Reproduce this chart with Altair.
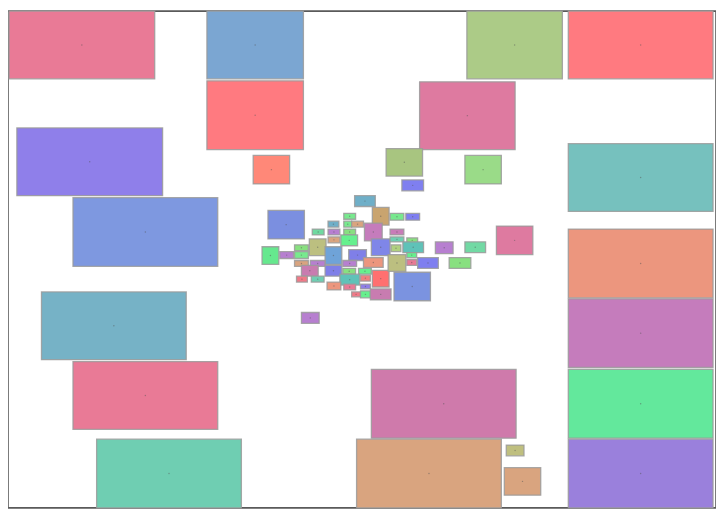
import altair as alt
import pandas as pd

# Rectangle extents (pixel-like data units)
x_start = [4, 205, 205, 12, 252, 69, 267, 469, 572, 421, 387, 403, 467, 572, 572, 499, 467, 437,
           37, 69, 93, 301, 572, 572, 572, 372, 357, 509, 507, 395, 451, 419,
           355, 373, 328, 344, 344, 352, 312, 328, 328, 344, 341, 365, 309, 261, 279, 294, 294, 294,
           325, 349, 310, 325, 301, 296, 311, 343, 372, 364, 343, 359, 340, 361, 373, 327, 344, 361,
           352, 361, 371, 391, 407, 391, 391, 408, 404, 392, 389, 408, 408]
x_end = [152, 303, 303, 160, 289, 216, 304, 566, 719, 518, 424, 425, 504, 719, 719, 536, 488, 455,
         184, 216, 240, 319, 719, 719, 719, 519, 504, 527, 544, 432, 473, 440,
         376, 390, 339, 356, 352, 364, 324, 340, 340, 356, 358, 383, 326, 278, 293, 308, 308, 308,
         342, 367, 325, 342, 318, 307, 324, 357, 391, 384, 356, 372, 360, 371, 390, 341, 356, 371,
         361, 371, 392, 405, 421, 405, 405, 419, 425, 402, 407, 418, 418]
y_start = [3, 3, 74, 122, 150, 193, 206, 3, 3, 75, 143, 175, 150, 138, 225, 222, 238, 238,
           289, 360, 439, 310, 296, 368, 439, 368, 439, 445, 468, 269, 254, 254,
           191, 203, 217, 209, 217, 217, 225, 225, 233, 225, 231, 219, 235, 243, 248, 241, 248, 257,
           243, 246, 257, 262, 262, 273, 273, 257, 235, 254, 265, 265, 271, 272, 267, 279, 281, 281,
           289, 288, 286, 209, 209, 225, 233, 234, 238, 241, 251, 249, 256]
y_end = [72, 72, 144, 191, 179, 263, 235, 72, 72, 144, 171, 186, 179, 207, 295, 251, 249, 250,
         358, 429, 509, 321, 366, 438, 509, 438, 509, 456, 496, 298, 265, 265,
         202, 221, 223, 215, 223, 223, 231, 231, 239, 231, 242, 237, 252, 261, 255, 247, 255, 263,
         261, 257, 263, 273, 273, 279, 279, 263, 252, 264, 271, 271, 282, 278, 284, 287, 287, 286,
         294, 295, 297, 216, 216, 231, 238, 239, 249, 248, 268, 254, 262]
fills = ["#E97A96", "#7BA6D2", "#FF7A80", "#8F7FEA", "#FF8878", "#7E98E0", "#7B8FE0", "#ACCB87",
         "#FF7A80", "#DE7AA0", "#A8C580", "#7F7FF0", "#9ADB88", "#76C1BE", "#EC967E", "#DE7AA0",
         "#72D9A4", "#B77FD0", "#76B2C6", "#E97A96", "#6FCEB2", "#B77FD0", "#C57CBC", "#63E89C",
         "#9A80DC", "#CF7AAB", "#D9A47F", "#BFBF7F", "#D9A47F", "#7B93E0", "#88E080", "#7F7FF0",
         "#6FAFC8", "#C9A46F", "#6FAFC8", "#78E88E", "#78E88E", "#D9A47F", "#6FD9A0", "#B77FD0",
         "#D9A47F", "#88E080", "#66F08E", "#C57CBC", "#BCBF80", "#66E88E", "#B77FD0", "#88E080",
         "#78EA8E", "#D9A47F", "#6FA3D8", "#7F7FE8", "#B77FD0", "#7F7FE8", "#C87CB0", "#F07A88",
         "#6FCEB2", "#B77FD0", "#7F86E8", "#EC967E", "#88E080", "#66F08E", "#5FC2B8", "#F08080",
         "#FF7070", "#EC967E", "#E87A96", "#8F7FE8", "#F07A88", "#66F08E", "#C87CB0", "#78E88E",
         "#7F7FF0", "#C87CB8", "#6FCEB2", "#88E080", "#5FC2B8", "#B0D080", "#BCBF80", "#66F08E",
         "#E87A96"]

df = pd.DataFrame({"x1": x_start, "x2": x_end, "y1": y_start, "y2": y_end, "fill": fills})
df["cx"] = (df["x1"] + df["x2"]) / 2
df["cy"] = (df["y1"] + df["y2"]) / 2

xs = alt.Scale(domain=[3, 722], nice=False, zero=False)
ys = alt.Scale(domain=[3, 509], nice=False, zero=False, reverse=True)

rects = alt.Chart(df).mark_rect(stroke="#9a9a9a", strokeWidth=1.3, strokeOpacity=0.85).encode(
    x=alt.X("x1:Q", scale=xs, axis=None),
    x2="x2",
    y=alt.Y("y1:Q", scale=ys, axis=None),
    y2="y2",
    fill=alt.Fill("fill:N", scale=None),
)

dots = alt.Chart(df).mark_circle(size=2, color="#555555", opacity=0.5).encode(
    x=alt.X("cx:Q", scale=xs, axis=None),
    y=alt.Y("cy:Q", scale=ys, axis=None),
)

chart = (rects + dots).properties(width=714, height=501, padding=0).configure_view(
    stroke="#5a5a5a", strokeWidth=1.6
)

chart.save("out.html", embed_options={"renderer": "svg", "actions": False})
